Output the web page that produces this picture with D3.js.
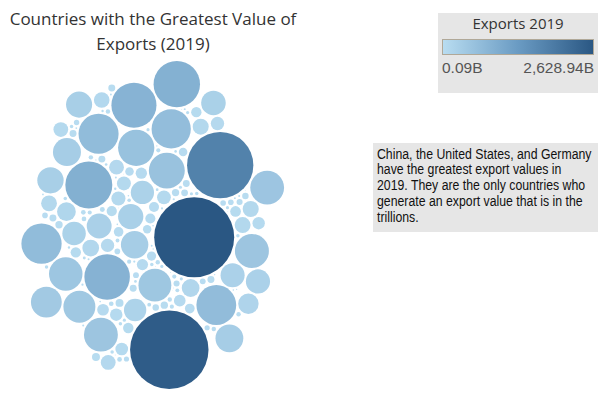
<!DOCTYPE html>
<meta charset="utf-8">
<head>
	<title>Exports 2019</title>
	<script type="text/javascript" src="https://cdn.jsdelivr.net/npm/d3@7"></script>
	<style>
		body { margin: 0; background: #fff; }
		.title { font-family: "Open Sans", sans-serif; font-size: 17px; fill: #333; }
		.legend-title { font-family: "Open Sans", sans-serif; font-size: 15px; fill: #333; }
		.legend-label { font-family: "Liberation Sans", Arial, sans-serif; font-size: 15.5px; fill: #555; }
		.note { font-family: "Liberation Sans", Arial, sans-serif; font-size: 15px; fill: #111; }
	</style>
</head>
<body>
	<div id="chart"></div>
	<script>
		// exports of goods and services, 2019, billions US$
		var countries = ["Afghanistan","Albania","Algeria","Angola","Antigua and Barbuda","Argentina","Armenia","Aruba","Australia","Austria",
			"Azerbaijan","Bahamas","Bahrain","Bangladesh","Barbados","Belarus","Belgium","Belize","Benin","Bhutan",
			"Bolivia","Bosnia and Herzegovina","Botswana","Brazil","Brunei","Bulgaria","Burkina Faso","Burundi","Cabo Verde","Cambodia",
			"Cameroon","Canada","Chad","Chile","China","Colombia","Comoros","Congo, Dem. Rep.","Congo, Rep.","Costa Rica",
			"Cote d'Ivoire","Croatia","Cyprus","Czech Republic","Denmark","Djibouti","Dominica","Dominican Republic","Ecuador","Egypt",
			"El Salvador","Estonia","Eswatini","Ethiopia","Fiji","Finland","France","Gabon","Gambia","Georgia",
			"Germany","Ghana","Greece","Grenada","Guatemala","Guinea","Guinea-Bissau","Guyana","Haiti","Honduras",
			"Hong Kong","Hungary","Iceland","India","Indonesia","Iraq","Ireland","Israel","Italy","Jamaica",
			"Japan","Jordan","Kazakhstan","Kenya","Korea","Kuwait","Kyrgyz Republic","Lao PDR","Latvia","Lebanon",
			"Lesotho","Liberia","Lithuania","Luxembourg","Macao","Madagascar","Malawi","Malaysia","Maldives","Mali",
			"Malta","Mauritania","Mauritius","Mexico","Moldova","Mongolia","Montenegro","Morocco","Mozambique","Myanmar",
			"Namibia","Nepal","Netherlands","New Zealand","Nicaragua","Niger","Nigeria","North Macedonia","Norway","Oman",
			"Pakistan","Panama","Papua New Guinea","Paraguay","Peru","Philippines","Poland","Portugal","Puerto Rico","Qatar",
			"Romania","Russia","Rwanda","Samoa","Sao Tome and Principe","Saudi Arabia","Senegal","Serbia","Seychelles","Sierra Leone",
			"Singapore","Slovakia","Slovenia","Solomon Islands","South Africa","Spain","Sri Lanka","St. Kitts and Nevis","St. Lucia","St. Vincent",
			"Sudan","Suriname","Sweden","Switzerland","Tajikistan","Tanzania","Thailand","Timor-Leste","Togo","Tonga",
			"Trinidad and Tobago","Tunisia","Turkey","Turkmenistan","Uganda","Ukraine","United Arab Emirates","United Kingdom","United States","Uruguay",
			"Uzbekistan","Vanuatu","Vietnam","Zambia","Zimbabwe"];
		var exports2019 = [1.5, 5.3, 38.0, 35.0, 1.1, 78.0, 5.0, 2.0, 310.0, 254.0,
			22.0, 4.2, 29.0, 42.0, 2.0, 41.0, 443.0, 1.1, 3.0, 0.7,
			10.0, 8.0, 7.0, 263.0, 7.0, 43.0, 4.0, 0.3, 1.0, 20.0,
			6.0, 541.0, 3.0, 82.0, 2628.94, 52.0, 0.2, 15.0, 7.0, 19.0,
			14.0, 30.0, 14.0, 227.0, 222.0, 4.0, 0.2, 19.0, 26.0, 53.0,
			7.0, 22.0, 2.0, 8.0, 2.4, 104.0, 850.0, 7.0, 0.4, 9.0,
			1804.0, 20.0, 80.0, 0.7, 13.0, 4.0, 0.3, 1.6, 1.6, 9.0,
			660.0, 130.0, 9.0, 529.0, 206.0, 90.0, 474.0, 115.0, 632.0, 6.0,
			906.0, 13.0, 64.0, 12.0, 651.0, 73.0, 2.6, 6.0, 20.0, 15.0,
			1.1, 0.6, 39.0, 144.0, 47.0, 4.0, 1.4, 238.0, 3.6, 4.0,
			17.0, 3.0, 4.0, 472.0, 4.0, 8.0, 2.3, 44.0, 5.0, 20.0,
			5.0, 2.0, 834.0, 56.0, 5.0, 1.5, 66.0, 8.0, 171.0, 44.0,
			30.0, 22.0, 8.0, 13.0, 56.0, 100.0, 318.0, 103.0, 73.0, 90.0,
			89.0, 470.0, 1.6, 0.3, 0.09, 285.0, 5.0, 26.0, 1.4, 1.0,
			665.0, 105.0, 45.0, 0.5, 106.0, 420.0, 20.0, 0.6, 1.2, 0.3,
			5.0, 2.3, 240.0, 460.0, 1.6, 9.0, 323.0, 0.2, 1.7, 0.13,
			11.0, 20.0, 248.0, 11.0, 5.0, 63.0, 390.0, 885.0, 2528.0, 13.0,
			17.0, 0.4, 280.0, 8.0, 5.0];

		var legendTitle = "Exports 2019";
		var titleLines = ["Countries with the Greatest Value of", "Exports (2019)"];
		var noteLines = ["China, the United States, and Germany", "have the greatest export values in",
			"2019. They are the only countries who", "generate an export value that is in the", "trillions."];

		var width = 606, height = 396;
		var svg = d3.select("#chart").append("svg")
			.attr("width", width).attr("height", height);

		var minV = d3.min(exports2019), maxV = d3.max(exports2019);
		var color = d3.scaleLinear()
			.domain([minV, (minV + maxV) / 2, maxV])
			.range(["#b9ddf1", "#6a9bc3", "#2a5783"]);
		var radius = d3.scaleSqrt().domain([0, maxV]).range([0, 40]);

		var nodes = countries.map(function (c, i) {
			return { name: c, value: exports2019[i], r: radius(exports2019[i]) };
		});

		var sim = d3.forceSimulation(nodes)
			.force("x", d3.forceX(155).strength(0.06))
			.force("y", d3.forceY(228).strength(0.035))
			.force("collide", d3.forceCollide(function (d) { return d.r + 1; }).strength(1).iterations(4))
			.stop();
		for (var i = 0; i < 400; i++) sim.tick();

		// shift the packed blob so it sits under the title like the original
		var ext = [d3.min(nodes, function (d) { return d.y - d.r; }), d3.max(nodes, function (d) { return d.y + d.r; })];
		var dy = (66 + 384) / 2 - (ext[0] + ext[1]) / 2;

		svg.append("g").attr("transform", "translate(0," + dy + ")")
			.selectAll("circle")
			.data(nodes)
			.enter()
			.append("circle")
			.attr("cx", function (d) { return d.x; })
			.attr("cy", function (d) { return d.y; })
			.attr("r", function (d) { return d.r; })
			.attr("fill", function (d) { return color(d.value); });

		// title
		svg.append("text").attr("class", "title")
			.attr("text-anchor", "middle").attr("x", 153).attr("y", 25)
			.selectAll("tspan").data(titleLines).enter().append("tspan")
			.attr("x", 153).attr("dy", function (d, i) { return i ? 25 : 0; })
			.text(function (d) { return d; });

		// legend
		var lg = svg.append("g");
		lg.append("rect").attr("x", 438).attr("y", 13).attr("width", 160).attr("height", 80).attr("fill", "#e6e6e6");
		lg.append("text").attr("class", "legend-title").attr("x", 518).attr("y", 29).attr("text-anchor", "middle").text(legendTitle);
		var grad = svg.append("defs").append("linearGradient").attr("id", "grad");
		grad.selectAll("stop").data(color.range()).enter().append("stop")
			.attr("offset", function (d, i) { return (i * 50) + "%"; })
			.attr("stop-color", function (d) { return d; });
		lg.append("rect").attr("x", 442.5).attr("y", 39.5).attr("width", 151).attr("height", 15)
			.attr("fill", "url(#grad)").attr("stroke", "#b0a898").attr("stroke-width", 1);
		var fmt = function (v) { return d3.format(",.2f")(v) + "B"; };
		lg.append("text").attr("class", "legend-label").attr("x", 442).attr("y", 73).text(fmt(minV));
		lg.append("text").attr("class", "legend-label").attr("x", 594).attr("y", 73).attr("text-anchor", "end").text(fmt(maxV));

		// annotation
		svg.append("rect").attr("x", 373).attr("y", 143).attr("width", 225).attr("height", 89).attr("fill", "#e6e6e6");
		svg.append("g").attr("transform", "translate(377,158.5) scale(0.82,1)")
			.append("text").attr("class", "note")
			.selectAll("tspan").data(noteLines).enter().append("tspan")
			.attr("x", 0).attr("dy", function (d, i) { return i ? 16 : 0; })
			.text(function (d) { return d; });
	</script>
</body>
</html>
